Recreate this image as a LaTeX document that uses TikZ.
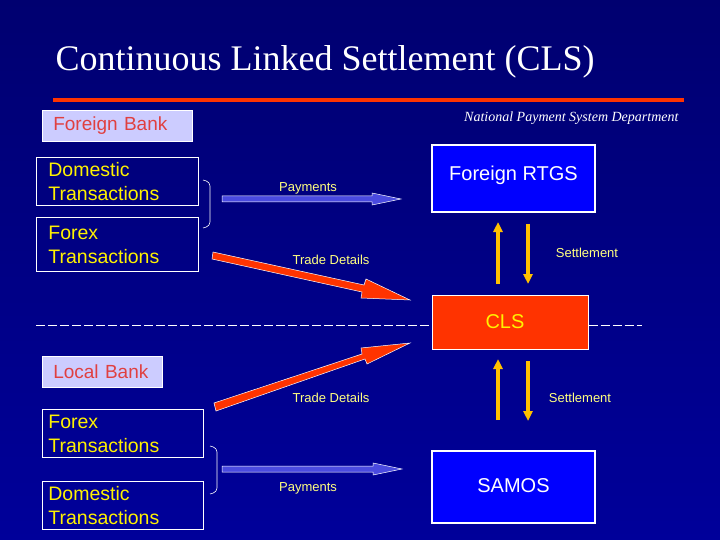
\documentclass[tikz,border=0pt]{standalone}
\usepackage{fontspec}
\setmainfont{Liberation Sans}
\newfontfamily\seriffont{Liberation Serif}
\usetikzlibrary{arrows.meta}
\definecolor{bgtop}{HTML}{000070}
\definecolor{bgbot}{HTML}{00009A}
\definecolor{lbl}{HTML}{FFFF80}
\definecolor{ylw}{HTML}{FFC000}
\definecolor{redc}{HTML}{FF3300}
\definecolor{pay}{HTML}{4A4AE0}
\definecolor{bankfill}{HTML}{CCCCFF}
\definecolor{bankred}{HTML}{E04040}
\tikzset{
 x=1pt,y=-1pt,
 txbox/.style={draw=white,line width=0.8pt,anchor=north west,text=yellow,font=\fontsize{19.5pt}{24pt}\selectfont,align=left,inner sep=0pt,text width=#1},
 bankbox/.style={fill=bankfill,draw=white,line width=0.6pt,text=bankred,font=\fontsize{19pt}{20pt}\selectfont,anchor=north west,inner sep=0pt},
 sysbox/.style={draw=white,line width=1.5pt,fill=blue,text=white,font=\fontsize{20pt}{22pt}\selectfont,minimum width=#1,inner sep=0pt},
 small/.style={text=lbl,font=\fontsize{13pt}{15pt}\selectfont},
 redarr/.style={draw=white,line width=0.5pt,fill=redc},
 payarr/.style={draw=white,line width=0.5pt,fill=pay},
 yarr/.style={ylw,line width=3.5pt,-{Triangle[length=10pt,width=9pt]}},
 brc/.style={white,line width=0.6pt,rounded corners=4pt},
 dsh/.style={white,line width=0.6pt,dash pattern=on 9pt off 3pt},
}
\begin{document}
\begin{tikzpicture}
\shade[top color=bgtop,bottom color=bgbot] (0,0) rectangle (720,540);
\useasboundingbox (0,0) rectangle (720,540);
\node[text=white,font=\seriffont\fontsize{36pt}{40pt}\selectfont] (title) at (325,62) {Continuous Linked Settlement (CLS)};
\draw[redc,line width=4pt] (53,100) coordinate (l1) -- (684,100) coordinate (l2);
\node[anchor=east,text=white,font=\seriffont\itshape\fontsize{14pt}{16pt}\selectfont] (npsd) at (682,118) {National Payment System Department};
% foreign side
\node[bankbox,minimum width=150pt,minimum height=31pt,text width=142pt] (fb) at (42,110) {\hspace*{7pt}Foreign Bank};
\node[txbox=162pt,minimum height=48pt] (dom1) at (36,157) {\hspace*{12pt}Domestic\\\hspace*{12pt}Transactions};
\node[txbox=162pt,minimum height=54pt] (fx1) at (36,217) {\hspace*{12pt}Forex\\\hspace*{12pt}Transactions};
\draw[brc] (203,180) coordinate (b1) -- (210,182) -- (210,226) -- (203,228) coordinate (b2);
\node[sysbox=163pt,minimum height=67pt] (rtgs) at (513.5,178.5) {\raisebox{10pt}{Foreign RTGS}};
\node[draw=white,line width=1pt,fill=redc,text=yellow,font=\fontsize{20pt}{22pt}\selectfont,minimum width=156pt,minimum height=54pt,inner sep=0pt] (cls) at (510,322) {\hspace*{-10pt}CLS};
\node[sysbox=163pt,minimum height=72pt] (samos) at (513.5,487) {\raisebox{2pt}{SAMOS}};
% payments arrows
\coordinate (p1s) at (222,199); \coordinate (p1e) at (401,199);
\fill[payarr] (p1s) ++(0,-3) -- ++(150,0) -- ++(0,-3) -- (p1e) -- (372,205) -- ++(0,-3) -- ++(-150,0) -- cycle;
\node[small] (pl1) at (308,188) {Payments};
\coordinate (p2s) at (222,469); \coordinate (p2e) at (402,469);
\fill[payarr] (p2s) ++(0,-3) -- ++(151,0) -- ++(0,-3) -- (p2e) -- (373,475) -- ++(0,-3) -- ++(-151,0) -- cycle;
\node[small] (pl2) at (308,488) {Payments};
% red arrows
\coordinate (r1s) at (213,255); \coordinate (r1e) at (410,300);
\fill[redarr] (213,252) -- (364,285) -- (366,279) -- (r1e) -- (361,298) -- (362,292) -- (212,259) -- cycle;
\node[small] (tl1) at (331,260) {Trade Details};
\coordinate (r2s) at (215,407); \coordinate (r2e) at (410,343);
\fill[redarr] (214,403) -- (362,354) -- (361,348) -- (r2e) -- (367,364) -- (365,359) -- (216,411) -- cycle;
\node[small] (tl2) at (331,398) {Trade Details};
% yellow arrows
\draw[yarr] (498,284) coordinate (y1a) -- (498,222) coordinate (y1b);
\draw[yarr] (528,224) coordinate (y2a) -- (528,284) coordinate (y2b);
\node[small] (s1) at (587,253) {Settlement};
\draw[yarr] (498,420) coordinate (y3a) -- (498,359) coordinate (y3b);
\draw[yarr] (528,361) coordinate (y4a) -- (528,421) coordinate (y4b);
\node[small] (s2) at (580,398) {Settlement};
% dashed divider
\draw[dsh] (36,325) coordinate (d1) -- (cls.west |- 0,325);
\draw[dsh] (cls.east |- 0,325) -- (642,325) coordinate (d2);
% local side
\node[bankbox,minimum width=120pt,minimum height=31pt,text width=112pt] (lb) at (42,356) {\hspace*{7pt}Local Bank};
\node[txbox=161pt,minimum height=48pt] (fx2) at (42,409) {\hspace*{6pt}Forex\\\hspace*{6pt}Transactions};
\node[txbox=161pt,minimum height=48pt] (dom2) at (42,481) {\hspace*{6pt}Domestic\\\hspace*{6pt}Transactions};
\draw[brc] (210,446) coordinate (b3) -- (217,448) -- (217,492) -- (210,494) coordinate (b4);
\end{tikzpicture}
\end{document}
